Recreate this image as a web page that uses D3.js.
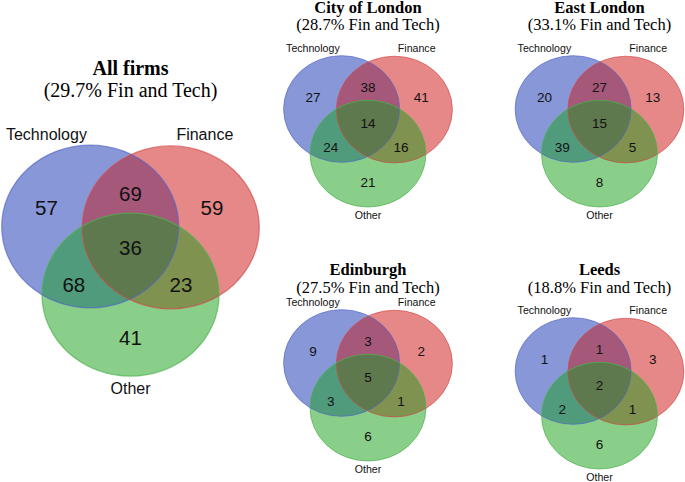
<!DOCTYPE html>
<html lang="en">
  <head>
    <script src="https://d3js.org/d3.v7.min.js"></script>
    <style>
      body { margin: 0; background: #fff; }
    </style>
  </head>
  <body>
    <script>
      // chart data: one entry per panel
      var panelNames = ["All firms", "City of London", "East London", "Edinburgh", "Leeds"];
      var finTechShare = [29.7, 28.7, 33.1, 27.5, 18.8];
      var setLabels = ["Technology", "Finance", "Other"];

      // region counts per panel
      var techOnly = [57, 27, 20, 9, 1];
      var techFin = [69, 38, 27, 3, 1];
      var finOnly = [59, 41, 13, 2, 3];
      var allThree = [36, 14, 15, 5, 2];
      var techOther = [68, 24, 39, 3, 2];
      var finOther = [23, 16, 5, 1, 1];
      var otherOnly = [41, 21, 8, 6, 6];

      var width = 685,
        height = 482;

      // where each panel sits on the page
      var panels = [
        { cx: 130.5, cy: 226.5, s: 88.5, titleY: 75, subY: 97, titleSize: 20, labelSize: 16, numSize: 20.5 },
        { cx: 368, cy: 109, s: 58, titleY: 12.5, subY: 30, titleSize: 16.5, labelSize: 10.6, numSize: 13.5 },
        { cx: 599.5, cy: 109, s: 58, titleY: 12.5, subY: 30, titleSize: 16.5, labelSize: 10.6, numSize: 13.5 },
        { cx: 368, cy: 363, s: 58, titleY: 275, subY: 293, titleSize: 16.5, labelSize: 10.6, numSize: 13.5 },
        { cx: 599.5, cy: 371, s: 58, titleY: 275, subY: 293, titleSize: 16.5, labelSize: 10.6, numSize: 13.5 }
      ];

      // venn shape in unit coordinates
      var circles = [
        { x: -0.455, y: 0, edge: "#5566c4" },
        { x: 0.455, y: 0.01, edge: "#d04848" },
        { x: 0, y: 0.77, edge: "#4cb04c" }
      ];
      var rx = 1,
        ry = 0.92;

      var regionColors = {
        techOnly: "#8797d7",
        finOnly: "#e78888",
        otherOnly: "#89cf89",
        techFin: "#a6587b",
        techOther: "#4f9b7c",
        finOther: "#80924f",
        allThree: "#5e794d"
      };

      // label spots for each region, unit coordinates
      var regionSpots = [
        { key: "techOnly", values: techOnly, x: -0.95, y: -0.21 },
        { key: "techFin", values: techFin, x: 0, y: -0.37 },
        { key: "finOnly", values: finOnly, x: 0.92, y: -0.21 },
        { key: "allThree", values: allThree, x: 0, y: 0.24 },
        { key: "techOther", values: techOther, x: -0.64, y: 0.66 },
        { key: "finOther", values: finOther, x: 0.57, y: 0.66 },
        { key: "otherOnly", values: otherOnly, x: 0, y: 1.26 }
      ];
      var labelSpots = [
        { x: -0.95, y: -0.98 },
        { x: 0.84, y: -0.98 },
        { x: 0, y: 1.89 }
      ];

      var svg = d3
        .select("body")
        .append("svg")
        .attr("width", width)
        .attr("height", height);

      var defs = svg.append("defs");

      panels.forEach(function (p, i) {
        var x = d3.scaleLinear().domain([0, 1]).range([p.cx, p.cx + p.s]);
        var y = d3.scaleLinear().domain([0, 1]).range([p.cy, p.cy + p.s]);

        var g = svg.append("g");

        // one clip path per circle
        circles.forEach(function (c, k) {
          defs
            .append("clipPath")
            .attr("id", "clip" + i + "_" + k)
            .append("ellipse")
            .attr("cx", x(c.x))
            .attr("cy", y(c.y))
            .attr("rx", x(rx) - x(0))
            .attr("ry", y(ry) - y(0));
        });

        function ell(sel, k, fill) {
          return sel
            .append("ellipse")
            .attr("cx", x(circles[k].x))
            .attr("cy", y(circles[k].y))
            .attr("rx", x(rx) - x(0))
            .attr("ry", y(ry) - y(0))
            .attr("fill", fill);
        }
        function clipped(k) {
          return g.append("g").attr("clip-path", "url(#clip" + i + "_" + k + ")");
        }

        // single regions
        ell(g, 0, regionColors.techOnly);
        ell(g, 1, regionColors.finOnly);
        ell(g, 2, regionColors.otherOnly);
        // pairwise overlaps
        ell(clipped(1), 0, regionColors.techFin);
        ell(clipped(2), 0, regionColors.techOther);
        ell(clipped(2), 1, regionColors.finOther);
        // all three
        ell(clipped(2).append("g").attr("clip-path", "url(#clip" + i + "_1)"), 0, regionColors.allThree);

        // outlines
        circles.forEach(function (c, k) {
          ell(g, k, "none")
            .attr("stroke", c.edge)
            .attr("stroke-width", p.s > 70 ? 1.3 : 1)
            .attr("stroke-opacity", 0.65);
        });

        // region counts
        g.selectAll("text.num")
          .data(regionSpots)
          .join("text")
          .attr("class", "num")
          .attr("x", function (d) { return x(d.x); })
          .attr("y", function (d) { return y(d.y); })
          .attr("dy", "0.35em")
          .attr("text-anchor", "middle")
          .style("font-family", "Liberation Sans, Arial, sans-serif")
          .style("font-size", p.numSize + "px")
          .attr("fill", "#111")
          .text(function (d) { return d.values[i]; });

        // set names
        g.selectAll("text.set")
          .data(labelSpots)
          .join("text")
          .attr("class", "set")
          .attr("x", function (d) { return x(d.x); })
          .attr("y", function (d) { return y(d.y); })
          .attr("text-anchor", "middle")
          .style("font-family", "Liberation Sans, Arial, sans-serif")
          .style("font-size", p.labelSize + "px")
          .attr("fill", "#111")
          .text(function (d, k) { return setLabels[k]; });

        // titles
        g.append("text")
          .attr("x", p.cx)
          .attr("y", p.titleY)
          .attr("text-anchor", "middle")
          .style("font-family", "Liberation Serif, Times New Roman, serif")
          .style("font-weight", "bold")
          .style("font-size", p.titleSize + "px")
          .text(panelNames[i]);
        g.append("text")
          .attr("x", p.cx)
          .attr("y", p.subY)
          .attr("text-anchor", "middle")
          .style("font-family", "Liberation Serif, Times New Roman, serif")
          .style("font-size", p.titleSize + "px")
          .text("(" + finTechShare[i] + "% Fin and Tech)");
      });
    </script>
  </body>
</html>
